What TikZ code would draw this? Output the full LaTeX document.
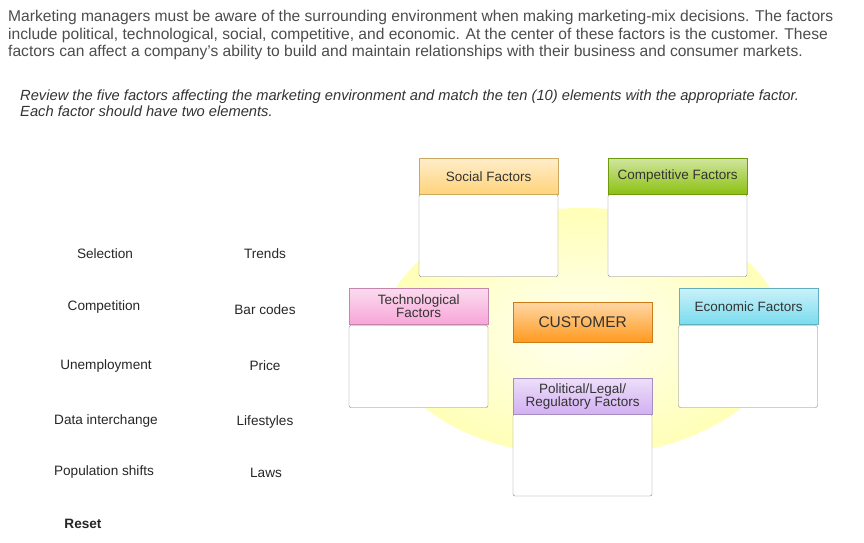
\documentclass[tikz,border=0pt]{standalone}
\usepackage{fontspec}
\setmainfont{Liberation Sans}
\tikzset{
  head/.style={draw=#1!80!black, top color=#1!40, bottom color=#1, minimum width=139pt, minimum height=36pt, font=\fontsize{13.5}{13}\selectfont, text=black!80, align=center, inner sep=1pt},
  dropbox/.style={draw=black!50, fill=white, rounded corners=2pt, minimum width=139pt, minimum height=82pt},
  word/.style={font=\fontsize{13.6}{15}\selectfont, text=black!85}
}
\definecolor{socialc}{HTML}{FFD37A}
\definecolor{compc}{HTML}{8CC010}
\definecolor{techc}{HTML}{F7A6D8}
\definecolor{econc}{HTML}{7ADCEF}
\definecolor{polc}{HTML}{D2B0F2}
\definecolor{custc}{HTML}{FF9A1E}
\begin{document}
\begin{tikzpicture}[x=1pt,y=-1pt]
  \useasboundingbox (0,0) rectangle (864,543);
  % intro text
  \node[anchor=north west, align=left, text=black!70, font=\fontsize{15.6}{17.5}\selectfont, inner sep=0] (intro) at (8,10)
    {Marketing managers must be aware of the surrounding environment when making marketing-mix decisions. The factors\\
     include political, technological, social, competitive, and economic. At the center of these factors is the customer. These\\
     factors can affect a company's ability to build and maintain relationships with their business and consumer markets.};
  \node[anchor=north west, align=left, text=black!80, font=\fontsize{14.7}{16}\selectfont\itshape, inner sep=0] (task) at (20,90)
    {Review the five factors affecting the marketing environment and match the ten (10) elements with the appropriate factor.\\
     Each factor should have two elements.};
  % environment
  \shade[inner color=yellow!5, outer color=yellow!28] (583,332) ellipse (200 and 124);
  % factors
  \node[dropbox] (socialbox) at (488.5,235.5) {};
  \node[head=socialc, anchor=north west] (social) at (419,158) {Social Factors};
  \node[dropbox] (compbox) at (677.5,235.5) {};
  \node[head=compc, anchor=north west] (comp) at (608,158) {Competitive Factors};
  \node[dropbox] (techbox) at (418.5,366.5) {};
  \node[head=techc, anchor=north west] (tech) at (349,288) {Technological\\Factors};
  \node[dropbox] (econbox) at (748,366.5) {};
  \node[head=econc, anchor=north west] (econ) at (679,288) {Economic Factors};
  \node[dropbox] (polbox) at (582.5,455) {};
  \node[head=polc, anchor=north west] (pol) at (513,378) {Political/Legal/\\Regulatory Factors};
  \node[head=custc, anchor=north west, minimum height=40pt, font=\fontsize{15.5}{16}\selectfont] (cust) at (513,302) {CUSTOMER};
  % elements
  \node[word] (sel) at (105,254) {Selection};
  \node[word] (cmp) at (104,307) {Competition};
  \node[word] (unemp) at (106,366) {Unemployment};
  \node[word] (edi) at (106,421) {Data interchange};
  \node[word] (pop) at (104,472) {Population shifts};
  \node[word] (trends) at (265,254) {Trends};
  \node[word] (bar) at (265,310) {Bar codes};
  \node[word] (price) at (265,366) {Price};
  \node[word] (life) at (265,422) {Lifestyles};
  \node[word] (laws) at (266,473) {Laws};
  \node[word, font=\fontsize{13.6}{15}\selectfont\bfseries] (reset) at (83,524) {Reset};
\end{tikzpicture}
\end{document}
